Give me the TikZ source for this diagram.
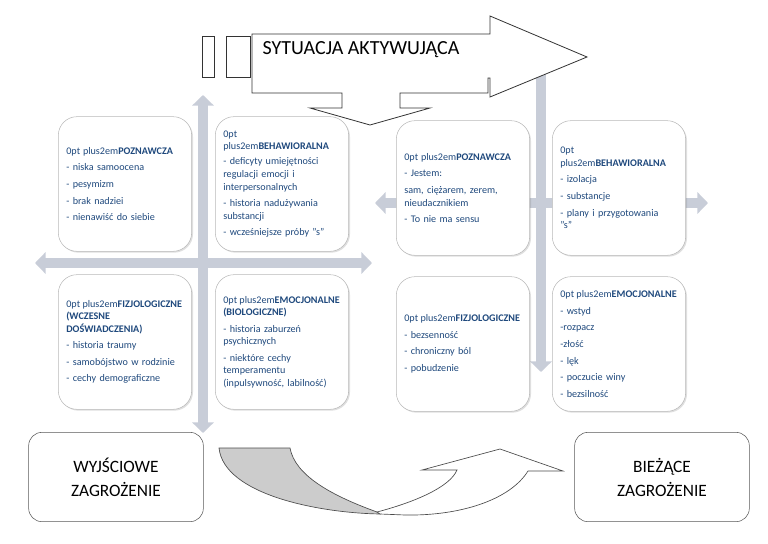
\documentclass[tikz,border=0pt]{standalone}
\usepackage{fontspec}
\setmainfont{Carlito}
\usetikzlibrary{arrows.meta,shadows}
\definecolor{txtblue}{RGB}{31,73,125}
\definecolor{agray}{RGB}{200,205,216}
\begin{document}
\begin{tikzpicture}[x=0.75pt,y=-0.75pt,
 box/.style={draw=gray!55,fill=white,rounded corners=14pt,minimum width=100pt,minimum height=101pt,
   text width=88pt,align=center,font=\fontsize{7.6}{9.4}\selectfont\hyphenpenalty=10000\exhyphenpenalty=10000,text=txtblue,
   drop shadow={opacity=0.25,shadow xshift=1pt,shadow yshift=-1pt}},
 big/.style={draw=black!65,fill=white,rounded corners=10pt,minimum width=131pt,minimum height=67pt,
   align=center,font=\fontsize{13}{18}\selectfont},
 garrow/.style={line width=7pt,color=agray,arrows={-Triangle[length=8pt,width=16pt]}},
 garrow2/.style={line width=7pt,color=agray,arrows={Triangle[length=8pt,width=16pt]-Triangle[length=8pt,width=16pt]}},
 shp/.style={draw=black!80,fill=white,line width=0.6pt}]
\useasboundingbox (0,0) rectangle (768,543);
% left axes
\coordinate (lt) at (203,95); \coordinate (lb) at (203,433);
\coordinate (ll) at (35,263); \coordinate (lr) at (372,263);
\draw[garrow2] (lt) -- (lb);
\draw[garrow2] (ll) -- (lr);
% right axes
\coordinate (rt) at (541,70); \coordinate (rb) at (541,372);
\coordinate (rl) at (375,203); \coordinate (rr) at (708,203);
\draw[garrow] (rt) -- (rb);
\draw[garrow2] (rl) -- (rr);
% left boxes
\node[box] (lp) at (125,184) {\textbf{POZNAWCZA}\\[3pt]- niska samoocena\\[3pt]- pesymizm\\[3pt]- brak nadziei\\[3pt]- nienawiść do siebie};
\node[box] (lbh) at (282,184) {\textbf{BEHAWIORALNA}\\[2pt]- deficyty umiejętności\\regulacji emocji i\\interpersonalnych\\[3pt]- historia nadużywania\\substancji\\[3pt]- wcześniejsze próby "s"};
\node[box] (lf) at (125,342) {\textbf{FIZJOLOGICZNE\\(WCZESNE\\DOŚWIADCZENIA)}\\[3pt]- historia traumy\\[3pt]- samobójstwo w rodzinie\\[3pt]- cechy demograficzne};
\node[box] (le) at (282,342) {\textbf{EMOCJONALNE\\(BIOLOGICZNE)}\\[3pt]- historia zaburzeń\\psychicznych\\[3pt]- niektóre cechy\\temperamentu\\(inpulsywność, labilność)};
% right boxes
\node[box] (rp) at (463,188) {\textbf{POZNAWCZA}\\[3pt]- Jestem:\\[3pt]sam, ciężarem, zerem,\\nieudacznikiem\\[3pt]- To nie ma sensu};
\node[box] (rbh) at (619,188) {\textbf{BEHAWIORALNA}\\[3pt]- izolacja\\[3pt]- substancje\\[3pt]- plany i przygotowania\\"s"};
\node[box] (rf) at (463,344) {\textbf{FIZJOLOGICZNE}\\[3pt]- bezsenność\\[3pt]- chroniczny ból\\[3pt]- pobudzenie\\[24pt]};
\node[box] (re) at (619,344) {\textbf{EMOCJONALNE}\\[3pt]- wstyd\\[3pt]-rozpacz\\[3pt]-złość\\[3pt]- lęk\\[3pt]- poczucie winy\\[3pt]- bezsilność};
% top callout
\node[draw=black!80,fill=white,minimum width=9pt,minimum height=31pt,inner sep=0pt] (s1) at (208,57) {};
\node[draw=black!80,fill=white,minimum width=18pt,minimum height=31pt,inner sep=0pt] (s2) at (238,57) {};
\draw[shp] (252,34) -- (490,34) -- (490,16) -- (587,57) -- (490,97) -- (490,78) -- (488,78) -- (488,93)
  -- (400,93) -- (400,108) -- (430,108) -- (370,125) -- (310,108) -- (342,108) -- (342,93) -- (252,93) -- cycle;
\node[font=\fontsize{15}{18}\selectfont,anchor=west] (sit) at (258,50) {SYTUACJA AKTYWUJĄCA};
% bottom
\node[big] (wz) at (116,477) {WYJŚCIOWE\\ZAGROŻENIE};
\node[big] (bz) at (662,477) {BIEŻĄCE\\ZAGROŻENIE};
\draw[draw=black!70,fill=black!20,line width=0.5pt] (219,448) .. controls (224,495) and (320,513) .. (380,514)
  -- (377,512) .. controls (330,495) and (295,475) .. (290,448) -- cycle;
\draw[draw=black!70,fill=white,line width=0.5pt] (377,512) .. controls (415,502) and (450,487) .. (457,470)
  -- (422,470) -- (500,449) -- (563,471) -- (528,471) .. controls (510,500) and (460,516) .. (405,515) -- (380,514) -- cycle;
\end{tikzpicture}
\end{document}
